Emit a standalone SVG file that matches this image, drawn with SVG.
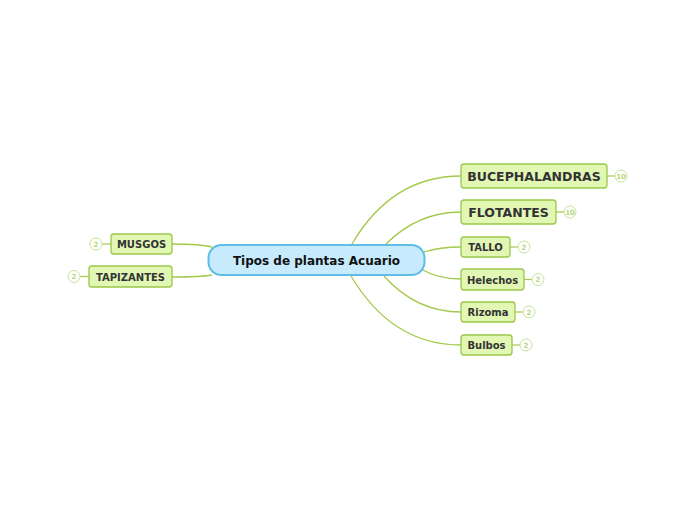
<svg xmlns="http://www.w3.org/2000/svg" width="697" height="520" viewBox="0 0 697 520">
<style>
.c{fill:none;stroke:#a3c94a;stroke-width:1.3}
.n rect{fill:#e2f7b4;stroke:#99c74a;stroke-width:1.3}
.n text{font-family:"DejaVu Sans",Verdana,sans-serif;font-weight:bold;fill:#333;text-anchor:middle}
.b circle{fill:#fff;stroke:#c8e39a;stroke-width:1}
.b text{font-family:"DejaVu Sans",sans-serif;font-size:7px;fill:#b6d77a;text-anchor:middle}
.b line{stroke:#a3c94a;stroke-width:1.2}
</style>
<rect width="697" height="520" fill="#fff"/>
<g id="connectors">
<path class="c" d="M352,244 Q392,176 461,176"/>
<path class="c" d="M386,244 Q418,212 461,212"/>
<path class="c" d="M424,252 Q440,247 461,247"/>
<path class="c" d="M421,269 Q438,279 461,279"/>
<path class="c" d="M384,276 Q416,312 461,312"/>
<path class="c" d="M351,276 Q392,345 461,345"/>
<path class="c" d="M212,247 Q200,244 172,244"/>
<path class="c" d="M212,275 Q200,277 172,277"/>
</g>
<g id="central">
<rect x="208.5" y="245" width="216" height="30" rx="13" fill="#c7ebfc" stroke="#5cbde6" stroke-width="2"/>
<text x="316.5" y="264.5" font-family="'DejaVu Sans',Verdana,sans-serif" font-weight="bold" font-size="12" fill="#111" text-anchor="middle">Tipos de plantas Acuario</text>
</g>
<g id="bucephalandras" class="n">
<rect x="461" y="164" width="146" height="24" rx="3"/>
<text x="534" y="181" font-size="12.5">BUCEPHALANDRAS</text>
<g class="b"><line x1="607" y1="176" x2="615" y2="176"/><circle cx="621" cy="176" r="6"/><text x="621" y="178.5">10</text></g>
</g>
<g id="flotantes" class="n">
<rect x="461" y="200" width="95" height="24" rx="3"/>
<text x="508.5" y="217" font-size="12.5">FLOTANTES</text>
<g class="b"><line x1="556" y1="212" x2="564" y2="212"/><circle cx="570" cy="212" r="6"/><text x="570" y="214.5">10</text></g>
</g>
<g id="tallo" class="n">
<rect x="461" y="237" width="49" height="20" rx="3"/>
<text x="485.5" y="251" font-size="10">TALLO</text>
<g class="b"><line x1="510" y1="247" x2="518" y2="247"/><circle cx="524" cy="247" r="6"/><text x="524" y="249.5">2</text></g>
</g>
<g id="helechos" class="n">
<rect x="461" y="269" width="63" height="21" rx="3"/>
<text x="492.5" y="283.5" font-size="10">Helechos</text>
<g class="b"><line x1="524" y1="279.5" x2="532" y2="279.5"/><circle cx="538" cy="279.5" r="6"/><text x="538" y="282">2</text></g>
</g>
<g id="rizoma" class="n">
<rect x="461" y="302" width="54" height="20" rx="3"/>
<text x="488" y="316" font-size="10">Rizoma</text>
<g class="b"><line x1="515" y1="312" x2="523" y2="312"/><circle cx="529" cy="312" r="6"/><text x="529" y="314.5">2</text></g>
</g>
<g id="bulbos" class="n">
<rect x="461" y="335" width="51" height="20" rx="3"/>
<text x="486.5" y="349" font-size="10">Bulbos</text>
<g class="b"><line x1="512" y1="345" x2="520" y2="345"/><circle cx="526" cy="345" r="6"/><text x="526" y="347.5">2</text></g>
</g>
<g id="musgos" class="n">
<rect x="111" y="234" width="61" height="20" rx="3"/>
<text x="141.5" y="248" font-size="10">MUSGOS</text>
<g class="b"><line x1="102" y1="244" x2="111" y2="244"/><circle cx="96" cy="244" r="6"/><text x="96" y="246.5">2</text></g>
</g>
<g id="tapizantes" class="n">
<rect x="89" y="266" width="83" height="21" rx="3"/>
<text x="130.5" y="280.5" font-size="10">TAPIZANTES</text>
<g class="b"><line x1="80" y1="276.5" x2="89" y2="276.5"/><circle cx="74" cy="276.5" r="6"/><text x="74" y="279">2</text></g>
</g>
</svg>
